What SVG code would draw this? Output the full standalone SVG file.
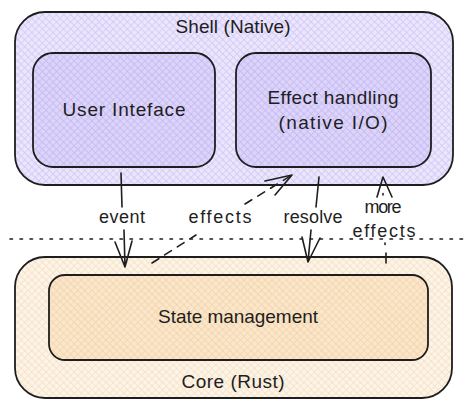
<svg xmlns="http://www.w3.org/2000/svg" width="474" height="411" viewBox="0 0 474 411">
<defs>
<pattern id="hp1" width="5" height="5" patternUnits="userSpaceOnUse" patternTransform="rotate(45)">
<rect width="5" height="5" fill="#ebe6fc"/>
<path d="M0 0V5M0 0H5" stroke="#cfc5f6" stroke-width="1.3"/>
</pattern>
<pattern id="hp2" width="5" height="5" patternUnits="userSpaceOnUse" patternTransform="rotate(45)">
<rect width="5" height="5" fill="#dcd4f9"/>
<path d="M0 0V5M0 0H5" stroke="#c3b6f3" stroke-width="1.3"/>
</pattern>
<pattern id="hp3" width="5" height="5" patternUnits="userSpaceOnUse" patternTransform="rotate(45)">
<rect width="5" height="5" fill="#fdf4e8"/>
<path d="M0 0V5M0 0H5" stroke="#f5dfc0" stroke-width="1.3"/>
</pattern>
<pattern id="hp4" width="5" height="5" patternUnits="userSpaceOnUse" patternTransform="rotate(45)">
<rect width="5" height="5" fill="#fae6cb"/>
<path d="M0 0V5M0 0H5" stroke="#f3d2a6" stroke-width="1.3"/>
</pattern>
</defs>
<style>
.box{stroke:#1e1e1e;stroke-width:1.8}
.t{font-family:"Liberation Sans",Arial,sans-serif;font-size:19px;fill:#1e1e1e;text-anchor:middle}
.s{font-size:18px}
.ln{stroke:#1e1e1e;stroke-width:1.6;fill:none;stroke-linecap:round;stroke-linejoin:round}
.dash{stroke-dasharray:8 7}
.dot{stroke-dasharray:2.5 7.5}
</style>
<rect width="474" height="411" fill="#ffffff"/>
<g id="shell">
<rect class="box" x="15" y="12" width="438" height="173" rx="30" fill="url(#hp1)"/>
<text class="t" x="233" y="33" textLength="115">Shell (Native)</text>
</g>
<g id="ui">
<rect class="box" x="33" y="53" width="182" height="114" rx="20" fill="url(#hp2)"/>
<text class="t" x="124" y="116" textLength="123">User Inteface</text>
</g>
<g id="effects-node">
<rect class="box" x="236" y="53" width="195" height="114" rx="20" fill="url(#hp2)"/>
<text class="t" x="333" y="104" textLength="131">Effect handling</text>
<text class="t" x="333" y="129" textLength="109">(native I/O)</text>
</g>
<g id="core">
<rect class="box" x="15" y="257" width="437" height="141" rx="30" fill="url(#hp3)"/>
<text class="t" x="233" y="388" textLength="103">Core (Rust)</text>
</g>
<g id="state">
<rect class="box" x="49" y="275" width="379" height="85" rx="16" fill="url(#hp4)"/>
<text class="t" x="238" y="323" textLength="160">State management</text>
</g>
<line x1="10" y1="239" x2="464" y2="239" class="ln dot" stroke-width="1.6"/>
<g id="connectors">
<path class="ln" d="M121 173L122 207M124 230L125 267M115 242L125 267L132 241"/>
<path class="ln dash" d="M152 263L196 235M245 204L292 175"/>
<path class="ln" d="M265 181L292 175L275 195"/>
<path class="ln" d="M319 177L316 207M311 230L308 262M302 237L308 262L320 238"/>
<path class="ln" d="M386 253L386 263M385 243L385 244.5M383 193.5L383 195"/>
<path class="ln" d="M377 197L383 177L392 197"/>
</g>
<g id="labels">
<text class="t s" x="122" y="223" textLength="46">event</text>
<text class="t s" x="220" y="223" textLength="63">effects</text>
<text class="t s" x="313" y="223" textLength="59">resolve</text>
<text class="t s" x="383" y="213" textLength="37">more</text>
<text class="t s" x="384" y="237" textLength="63">effects</text>
</g>
</svg>
